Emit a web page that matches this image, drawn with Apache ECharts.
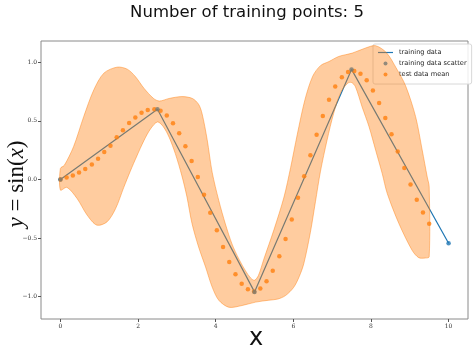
<!DOCTYPE html>
<html>
<head>
<meta charset="utf-8">
<script src="https://cdn.jsdelivr.net/npm/echarts@6/dist/echarts.min.js"></script>
<style>
  html, body { margin: 0; padding: 0; background: #fff; }
  #chart { width: 474px; height: 351px; }
</style>
</head>
<body>
<div id="chart"></div>
<script>
// training points (x, sin x)
const trainX = [0, 2.5, 5, 7.5, 10];
const trainY = [0, 0.598, -0.959, 0.938, -0.544];

// test points and predicted mean
const testX = [0, 0.16, 0.32, 0.48, 0.64, 0.81, 0.97, 1.13, 1.29, 1.45,
  1.61, 1.77, 1.93, 2.09, 2.25, 2.42, 2.58, 2.74, 2.90, 3.06,
  3.22, 3.38, 3.54, 3.70, 3.86, 4.03, 4.19, 4.35, 4.51, 4.67,
  4.83, 4.99, 5.15, 5.31, 5.47, 5.64, 5.80, 5.96, 6.12, 6.28,
  6.44, 6.60, 6.76, 6.92, 7.08, 7.25, 7.41, 7.57, 7.73, 7.89,
  8.05, 8.21, 8.37, 8.53, 8.69, 8.86, 9.02, 9.18, 9.34, 9.50];
const testMean = [0, 0.017, 0.034, 0.06, 0.088, 0.128, 0.176, 0.233, 0.287, 0.359,
  0.419, 0.481, 0.527, 0.569, 0.592, 0.598, 0.586, 0.544, 0.479, 0.393,
  0.282, 0.156, 0.02, -0.13, -0.285, -0.433, -0.576, -0.704, -0.809, -0.889,
  -0.937, -0.955, -0.929, -0.869, -0.778, -0.656, -0.507, -0.342, -0.157, 0.026,
  0.205, 0.381, 0.541, 0.68, 0.792, 0.872, 0.915, 0.925, 0.9, 0.845,
  0.757, 0.652, 0.524, 0.385, 0.239, 0.097, -0.043, -0.174, -0.282, -0.379];

// confidence band edges
const upperX = [0, 0.1, 0.34, 0.6, 0.86, 1.12, 1.46, 1.72, 1.93, 2.15, 2.4, 2.55, 2.8,
  3.13, 3.4, 3.56, 3.65, 3.78, 3.91, 4.08, 4.25, 4.42, 4.6, 4.77, 4.9, 5.0, 5.1,
  5.24, 5.5, 5.76, 5.93, 6.1, 6.3, 6.5, 6.7, 6.92, 7.17, 7.52, 7.86, 8.12, 8.4,
  8.65, 8.89, 9.15, 9.32, 9.45, 9.5];
const upperY = [0.094, 0.12, 0.28, 0.535, 0.763, 0.906, 0.957, 0.94, 0.877, 0.778, 0.69, 0.668, 0.69,
  0.706, 0.69, 0.64, 0.56, 0.34, 0.06, -0.18, -0.38, -0.55, -0.68, -0.78, -0.84, -0.86, -0.82,
  -0.68, -0.43, -0.15, 0.1, 0.38, 0.68, 0.88, 0.97, 1.005, 1.048, 1.077, 1.12, 1.14, 1.08,
  0.95, 0.8, 0.535, 0.25, 0.02, -0.063];
const lowerX = [0, 0.17, 0.43, 0.69, 0.94, 1.2, 1.42, 1.63, 1.8, 1.97, 2.15, 2.32, 2.5,
  2.65, 2.8, 2.96, 3.13, 3.26, 3.39, 3.56, 3.74, 3.91, 4.08, 4.34, 4.68, 5.03, 5.37,
  5.6, 5.8, 6.01, 6.15, 6.27, 6.44, 6.57, 6.7, 6.87, 7.04, 7.22, 7.4, 7.5, 7.6,
  7.77, 7.95, 8.12, 8.29, 8.42, 8.72, 9.06, 9.23, 9.4, 9.5];
const lowerY = [-0.091, -0.068, -0.163, -0.305, -0.39, -0.362, -0.25, -0.07, 0.07, 0.2, 0.33, 0.43, 0.49,
  0.45, 0.36, 0.22, 0.03, -0.149, -0.376, -0.576, -0.747, -0.918, -1.03, -1.09, -1.075, -1.046, -1.03,
  -1.02, -0.99, -0.92, -0.83, -0.718, -0.45, -0.19, 0.07, 0.336, 0.564, 0.74, 0.82, 0.826, 0.79,
  0.62, 0.45, 0.25, 0.05, -0.12, -0.376, -0.604, -0.667, -0.67, -0.66];

const xTicks = [0, 2, 4, 6, 8, 10];
const yTicks = [-1, -0.5, 0, 0.5, 1];
const yTickLabels = ['\u22121.0', '\u22120.5', '0.0', '0.5', '1.0'];

const chart = echarts.init(document.getElementById('chart'));

const tickFont = { fontFamily: 'DejaVu Serif', fontSize: 6, color: '#333' };

const option = {
  animation: false,
  grid: {
    left: 41, right: 6, top: 41, bottom: 32,
    show: true, borderColor: '#8a8a8a', borderWidth: 1
  },
  graphic: [
    {
      type: 'text', x: 247, y: 4,
      style: {
        text: 'Number of training points: 5',
        font: '16.5px "DejaVu Sans"', fill: '#111',
        textAlign: 'center', textVerticalAlign: 'top'
      }
    },
    {
      type: 'text', x: 17, y: 184, rotation: Math.PI / 2,
      style: {
        text: '{i|y} = sin({i|x})',
        fontFamily: 'Liberation Serif', fontSize: 23, fill: '#111',
        textAlign: 'center', textVerticalAlign: 'middle',
        rich: { i: { fontStyle: 'italic', fontFamily: 'Liberation Serif', fontSize: 23 } }
      }
    },
    {
      type: 'text', x: 256, y: 339,
      style: {
        text: 'x', font: '24px "DejaVu Sans"', fill: '#111',
        textAlign: 'center', textVerticalAlign: 'middle'
      }
    }
  ],
  legend: {
    orient: 'vertical',
    left: 373, top: 44,
    padding: [5, 5, 6, 5],
    itemWidth: 15, itemHeight: 4, itemGap: 4,
    backgroundColor: 'rgba(255,255,255,0.85)',
    borderColor: '#d8d8d8', borderWidth: 1, borderRadius: 2,
    textStyle: { fontFamily: 'DejaVu Sans', fontSize: 6.6, color: '#222', padding: [0, 0, 0, 1] },
    data: [
      { name: 'training data', icon: 'path://M0,0 L15,0 L15,1.2 L0,1.2 Z', itemStyle: { color: '#1f77b4' } },
      { name: 'training data scatter', icon: 'circle', itemStyle: { color: '#1f77b4' } },
      { name: 'test data mean', icon: 'circle', itemStyle: { color: '#ff7f0e' } }
    ]
  },
  xAxis: {
    type: 'value', min: -0.5, max: 10.5,
    splitLine: { show: false },
    axisLine: { show: false, onZero: false },
    axisTick: { show: true, length: 3, lineStyle: { color: '#555' }, customValues: xTicks },
    axisLabel: { ...tickFont, margin: 4, customValues: xTicks }
  },
  yAxis: {
    type: 'value', min: -1.19, max: 1.18,
    splitLine: { show: false },
    axisLine: { show: false, onZero: false },
    axisTick: { show: true, length: 3, lineStyle: { color: '#555' }, customValues: yTicks },
    axisLabel: {
      ...tickFont, margin: 4, customValues: yTicks,
      formatter: v => yTickLabels[yTicks.indexOf(v)]
    }
  },
  series: [
    {
      name: 'training data',
      type: 'line', z: 1,
      data: trainX.map((x, i) => [x, trainY[i]]),
      showSymbol: false, symbol: 'none',
      lineStyle: { color: '#1f77b4', width: 1.2 },
      itemStyle: { color: '#1f77b4' }
    },
    {
      name: 'test data mean',
      type: 'scatter', z: 2,
      data: testX.map((x, i) => [x, testMean[i]]),
      symbolSize: 4.5,
      itemStyle: { color: '#ff7f0e' }
    },
    {
      name: 'training data scatter',
      type: 'scatter', z: 3,
      data: trainX.map((x, i) => [x, trainY[i]]),
      symbolSize: 4.5,
      itemStyle: { color: '#1f77b4' }
    },
    {
      type: 'custom', z: 4, silent: true,
      data: [[0, 0]],
      renderItem: (params, api) => {
        const pts = [];
        upperX.forEach((x, i) => pts.push(api.coord([x, upperY[i]])));
        for (let i = lowerX.length - 1; i >= 0; i--) pts.push(api.coord([lowerX[i], lowerY[i]]));
        return {
          type: 'polygon',
          shape: { points: pts, smooth: 0.3 },
          style: { fill: 'rgba(255,127,14,0.4)', stroke: 'rgba(255,127,14,0.45)', lineWidth: 1 }
        };
      }
    }
  ]
};

chart.setOption(option);
</script>
</body>
</html>
